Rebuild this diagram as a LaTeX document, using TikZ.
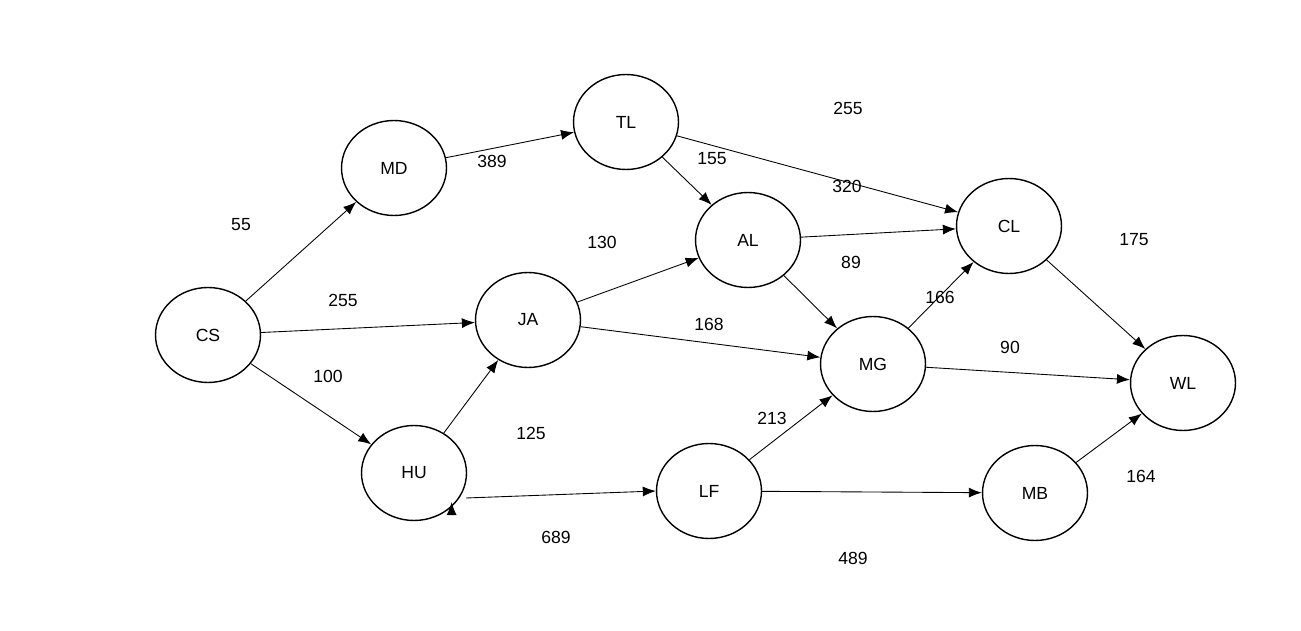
\documentclass[tikz,border=0pt]{standalone}
\usepackage{fontspec}
\setmainfont{Liberation Sans}
\usetikzlibrary{shapes.geometric,arrows.meta}
\begin{document}
\begin{tikzpicture}[x=0.02cm,y=-0.02cm,
  st/.style={ellipse,draw,line width=0.8pt,minimum width=2.1cm,minimum height=1.9cm,inner sep=0pt,font=\fontsize{10}{12}\selectfont},
  ed/.style={-{Latex[length=2.6mm,width=2mm]},line width=0.5pt},
  lb/.style={font=\fontsize{10}{12}\selectfont}]
\useasboundingbox (0,0) rectangle (1301,631);
\node[st] (CS) at (208,335) {CS};
\node[st] (MD) at (394,168) {MD};
\node[st] (TL) at (626,122) {TL};
\node[st] (AL) at (748,240) {AL};
\node[st] (CL) at (1009,226) {CL};
\node[st] (JA) at (528,320) {JA};
\node[st] (MG) at (873,364) {MG};
\node[st] (WL) at (1183,383) {WL};
\node[st] (HU) at (414,473) {HU};
\node[st] (LF) at (709,491) {LF};
\node[st] (MB) at (1035,493) {MB};
\draw[ed] (CS) -- (MD);
\draw[ed] (MD) -- (TL);
\draw[ed] (TL) -- (CL);
\draw[ed] (TL) -- (AL);
\draw[ed] (AL) -- (CL);
\draw[ed] (AL) -- (MG);
\draw[ed] (CS) -- (JA);
\draw[ed] (JA) -- (AL);
\draw[ed] (JA) -- (MG);
\draw[ed] (CS) -- (HU);
\draw[ed] (HU) -- (JA);
\draw[ed] (HU.south east) ++(0,-5) coordinate (h1);
\draw[ed] (HU) ++(52,25) -- (LF.west |- 0,491);
\draw[ed] (LF) -- (MG);
\draw[ed] (LF) -- (MB);
\draw[ed] (MG) -- (CL);
\draw[ed] (MG) -- (WL);
\draw[ed] (CL) -- (WL);
\draw[ed] (MB) -- (WL);
\node[lb] at (241,225) {55};
\node[lb] at (492,161) {389};
\node[lb] at (848,108) {255};
\node[lb] at (712,159) {155};
\node[lb] at (847,186) {320};
\node[lb] at (1134,240) {175};
\node[lb] at (602,242) {130};
\node[lb] at (851,262) {89};
\node[lb] at (343,300) {255};
\node[lb] at (940,297) {166};
\node[lb] at (709,324) {168};
\node[lb] at (1010,347) {90};
\node[lb] at (328,376) {100};
\node[lb] at (531,433) {125};
\node[lb] at (772,418) {213};
\node[lb] at (1141,476) {164};
\node[lb] at (556,537) {689};
\node[lb] at (853,558) {489};
\end{tikzpicture}
\end{document}
